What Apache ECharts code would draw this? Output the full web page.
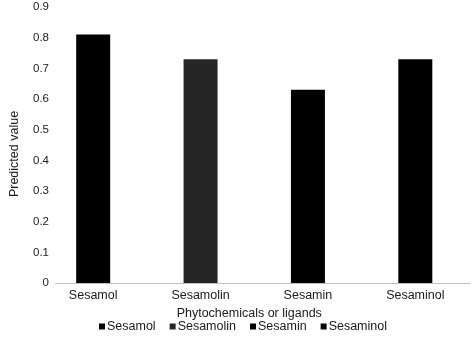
<!DOCTYPE html>
<html>
<head>
<meta charset="utf-8">
<script src="https://cdn.jsdelivr.net/npm/echarts@6/dist/echarts.min.js"></script>
<style>
html,body{margin:0;padding:0;background:#fff;}
#chart{width:474px;height:348px;}
</style>
</head>
<body>
<div id="chart"></div>
<script>
var categories = ["Sesamol", "Sesamolin", "Sesamin", "Sesaminol"];
var values = [0.81, 0.73, 0.63, 0.73];
var barColors = ["#000000", "#262626", "#000000", "#000000"];
var yTicks = [0, 0.1, 0.2, 0.3, 0.4, 0.5, 0.6, 0.7, 0.8, 0.9];
var xTitle = "Phytochemicals or ligands";
var yTitle = "Predicted value";

var font = "'Liberation Sans', Arial, sans-serif";
var textColor = "#1a1a1a";

var series = categories.map(function (name, i) {
  var d = categories.map(function (c, j) { return j === i ? values[i] : '-'; });
  return {
    name: name,
    type: 'bar',
    stack: 'all',
    xAxisIndex: 0,
    yAxisIndex: 0,
    barWidth: 34,
    itemStyle: { color: barColors[i] },
    data: d
  };
});

var chart = echarts.init(document.getElementById('chart'), null, { renderer: 'canvas' });
chart.setOption({
  backgroundColor: '#ffffff',
  animation: false,
  textStyle: { fontFamily: font, color: textColor },
  legend: {
    data: categories,
    left: 94,
    top: 315,
    icon: 'rect',
    itemWidth: 6,
    itemHeight: 6,
    itemGap: 14,
    textStyle: { fontFamily: font, fontSize: 12.5, color: textColor, padding: [0, 0, 0, -3] }
  },
  grid: [
    { left: 39.5, right: 5, top: 7, bottom: 65 },
    { left: 55, right: 4, top: 7, bottom: 65 }
  ],
  xAxis: [
    {
      type: 'category', gridIndex: 0, data: categories,
      axisLine: { show: false }, axisTick: { show: false },
      axisLabel: { fontFamily: font, fontSize: 12.5, color: textColor, margin: 6 },
      name: xTitle, nameLocation: 'middle', nameGap: 24.5,
      nameTextStyle: { fontFamily: font, fontSize: 12.5, color: textColor, padding: [0, 10, 0, 0] }
    },
    {
      type: 'category', gridIndex: 1, data: categories,
      axisLine: { show: true, lineStyle: { color: '#bfbfbf', width: 1 } },
      axisTick: { show: false }, axisLabel: { show: false }
    }
  ],
  yAxis: [
    {
      type: 'value', gridIndex: 0, min: 0, max: 0.9, interval: 0.1,
      show: false
    },
    {
      type: 'value', gridIndex: 1, min: 0, max: 0.9, interval: 0.1,
      axisLine: { show: false }, axisTick: { show: false }, splitLine: { show: false },
      axisLabel: { fontFamily: font, fontSize: 11.5, color: textColor, margin: 6.5,
        formatter: function (v) { var t = yTicks.filter(function (k) { return Math.abs(k - v) < 1e-9; }); return t.length ? String(t[0]) : ''; } },
      name: yTitle, nameLocation: 'middle', nameGap: 34.5,
      nameTextStyle: { fontFamily: font, fontSize: 12.5, color: textColor, padding: [0, 18, 0, 0] }
    }
  ],
  series: series
});
</script>
</body>
</html>
